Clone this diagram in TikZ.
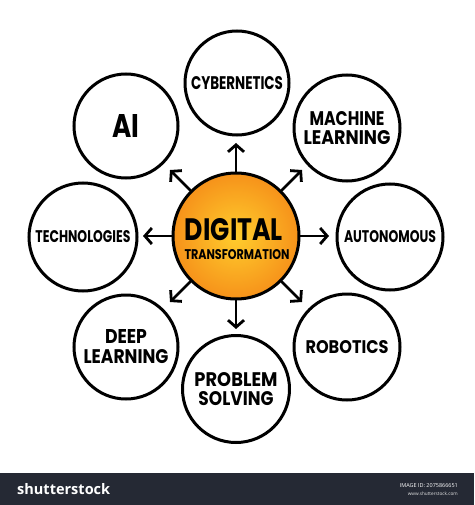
\documentclass[tikz,border=0pt]{standalone}
\usepackage{graphicx}
\usepackage{fontspec}
\setmainfont{Poppins}
\newfontfamily\logofont{Open Sans}
\usetikzlibrary{arrows.meta}
\definecolor{barbg}{RGB}{37,41,52}
\definecolor{orin}{RGB}{255,205,45}
\definecolor{orout}{RGB}{246,146,26}
\newcommand{\fitbox}[3]{\resizebox{#1pt}{#2pt}{#3}}
\begin{document}
\begin{tikzpicture}[x=1pt,y=-1pt,
  bubble/.style={circle,draw=black,line width=3pt,inner sep=0pt,align=center,font=\bfseries},
  ctext/.style={inner sep=0pt,font=\bfseries},
  arr/.style={line width=2.8pt,line cap=round,-{Straight Barb[length=7pt,width=16pt]}}]
\useasboundingbox (0,0) rectangle (474,505);
\fill[white] (0,0) rectangle (474,505);
% central
\node[bubble,minimum size=126pt,inner color=orin,outer color=orout] (c) at (236,236) {};
\node[ctext] (dig) at (234,230) {\fitbox{98}{22}{DIGITAL}};
\node[ctext] (trf) at (237,255) {\fitbox{105}{10}{TRANSFORMATION}};
% outer circles
\node[bubble,minimum size=104pt] (cyb) at (237,83) {\fitbox{92}{13}{CYBERNETICS}};
\node[bubble,minimum size=106pt] (ml) at (347,128) {\fitbox{75}{14}{MACHINE}\\[3pt]\fitbox{87}{14}{LEARNING}};
\node[bubble,minimum size=106pt] (aut) at (390,237) {\fitbox{92}{12}{AUTONOMOUS}};
\node[bubble,minimum size=106pt] (rob) at (347,347) {\fitbox{83}{13}{ROBOTICS}};
\node[bubble,minimum size=107pt] (ps) at (236,389) {\fitbox{83}{14}{PROBLEM}\\[4pt]\fitbox{75}{14}{SOLVING}};
\node[bubble,minimum size=104pt] (dl) at (126,347) {\fitbox{42}{14}{DEEP}\\[5pt]\fitbox{85}{14}{LEARNING}};
\node[bubble,minimum size=108pt] (tech) at (83,237) {\fitbox{95}{12}{TECHNOLOGIES}};
\node[bubble,minimum size=104pt] (ai) at (126,126) {\fitbox{27}{23}{AI}};
% arrow tips
\coordinate (tN) at (236,143);
\coordinate (tS) at (236,329);
\coordinate (tW) at (143,236);
\coordinate (tE) at (329,236);
\coordinate (tNE) at (302,170);
\coordinate (tNW) at (170,170);
\coordinate (tSW) at (170,302);
\coordinate (tSE) at (302,302);
\foreach \t in {tN,tS,tW,tE,tNE,tNW,tSW,tSE}{\draw[arr] (c) -- (\t);}
% bottom bar
\fill[barbg] (0,473) rectangle (474,505);
\node[anchor=west,inner sep=0pt,text=white] (logo) at (17,489)
  {\resizebox{93pt}{!}{\logofont\bfseries shutterstock}};
\node[anchor=east,inner sep=0pt,text=white] (imgid) at (458,486)
  {\resizebox{58pt}{!}{\logofont IMAGE ID: 2075866651}};
\node[anchor=east,inner sep=0pt,text=white!80!gray] (www) at (458,494)
  {\resizebox{50pt}{!}{\logofont www.shutterstock.com}};
\end{tikzpicture}
\end{document}
